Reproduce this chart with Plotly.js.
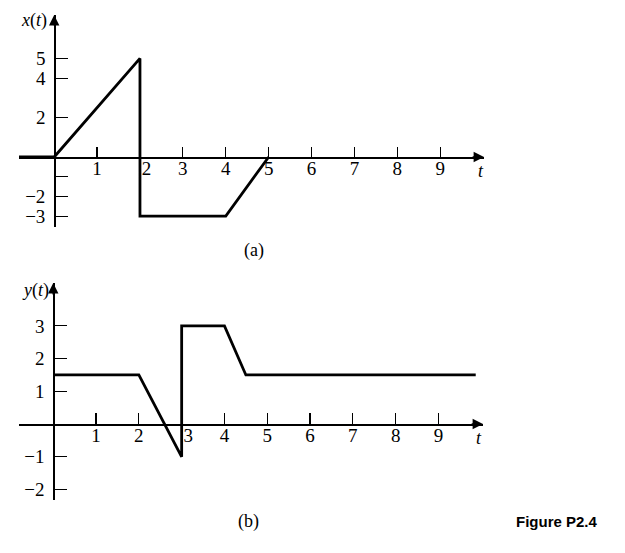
<!DOCTYPE html>
<html>
<head>
<meta charset="utf-8">
<script src="https://cdn.plot.ly/plotly-3.0.1.min.js"></script>
<style>html,body{margin:0;padding:0;background:#fff}#chart{width:625px;height:553px}</style>
</head>
<body>
<div id="chart"></div>
<script>
// ---- data ----
const tA = [-0.82, 0, 2, 2, 4, 5];
const xA = [0, 0, 5, -3, -3, 0];
const tB = [0, 2, 3, 3, 4, 4.5, 9.87];
const yB = [1.5, 1.5, -1, 3, 3, 1.5, 1.5];

const tTicks = [1, 2, 3, 4, 5, 6, 7, 8, 9];
const tTickTextA = ['1', '\u2002\u20092', '3', '4', '5', '6', '7', '8', '9'];
const tTickTextB = ['1', '2', '\u2002\u20093', '4', '5', '6', '7', '8', '9'];
const xATicks = [5, 4, 2, -1, -2, -3];
const xATickText = ['5', '4', '2', '', '\u22122', '\u22123'];
const yBTicks = [3, 2, 1, -1, -2];
const yBTickText = ['3', '2', '1', '\u22121', '\u22122'];

// ---- layout geometry ----
const W = 625, H = 553;
const px = v => v / W, py = v => 1 - v / H;
const xRangeA = [-0.82, 10.02], yRangeA = [-3.55, 7.2];
const xDomA = [px(19), px(484)], yDomA = [py(227), py(15)];
const xRangeB = [-0.8, 10.04], yRangeB = [-2.32, 4.31];
const xDomB = [px(19), px(483)], yDomB = [py(500), py(283)];
const posOf = (dom, rng) => dom[0] + (0 - rng[0]) / (rng[1] - rng[0]) * (dom[1] - dom[0]);

const serif = 'Liberation Serif, Times New Roman, serif';
const tickFont = {family: serif, size: 19, color: '#000'};
function xAxis(rng, dom, yDom, yRng, tlen, text) {
  return {range: rng, domain: dom, anchor: 'free', position: posOf(yDom, yRng),
    showline: true, linecolor: '#000', linewidth: 1.8, ticks: 'inside', ticklen: tlen, tickwidth: 1.2,
    tickcolor: '#000', tickvals: tTicks, ticktext: text, tickfont: tickFont, ticklabelstandoff: -7,
    showgrid: false, zeroline: false, fixedrange: true};
}
function yAxis(rng, dom, xDom, xRng, vals, text) {
  return {range: rng, domain: dom, anchor: 'free', position: posOf(xDom, xRng),
    showline: true, linecolor: '#000', linewidth: 1.8, ticks: 'inside', ticklen: 12, tickwidth: 1.2,
    tickcolor: '#000', tickvals: vals, ticktext: text, tickfont: tickFont, ticklabelstandoff: 5,
    showgrid: false, zeroline: false, fixedrange: true};
}

const lineStyle = {color: '#000', width: 2.8};
const traces = [
  {x: tA, y: xA, xaxis: 'x', yaxis: 'y', mode: 'lines', line: lineStyle, hoverinfo: 'skip', showlegend: false},
  {x: tB, y: yB, xaxis: 'x2', yaxis: 'y2', mode: 'lines', line: lineStyle, hoverinfo: 'skip', showlegend: false}
];

function arrow(xr, yr, x, y, ax, ay) {
  return {xref: xr, yref: yr, axref: xr, ayref: yr, x: x, y: y, ax: ax, ay: ay, text: '',
    showarrow: true, arrowhead: 2, arrowsize: 1.3, arrowwidth: 1.6, arrowcolor: '#000'};
}
function txt(x, y, text, font) {
  return {xref: 'paper', yref: 'paper', x: px(x), y: py(y), text: text, showarrow: false,
    xanchor: 'center', yanchor: 'middle', font: font};
}
const labelFont = {family: serif, size: 18, color: '#000'};

const layout = {
  width: W, height: H, margin: {l: 0, r: 0, t: 0, b: 0},
  paper_bgcolor: '#fff', plot_bgcolor: 'rgba(0,0,0,0)',
  xaxis: xAxis(xRangeA, xDomA, yDomA, yRangeA, 10, tTickTextA),
  yaxis: yAxis(yRangeA, yDomA, xDomA, xRangeA, xATicks, xATickText),
  xaxis2: xAxis(xRangeB, xDomB, yDomB, yRangeB, 11, tTickTextB),
  yaxis2: yAxis(yRangeB, yDomB, xDomB, xRangeB, yBTicks, yBTickText),
  annotations: [
    arrow('x', 'y', xRangeA[1], 0, xRangeA[1] - 0.3, 0),
    arrow('x', 'y', 0, yRangeA[1], 0, yRangeA[1] - 0.6),
    arrow('x2', 'y2', xRangeB[1], 0, xRangeB[1] - 0.3, 0),
    arrow('x2', 'y2', 0, yRangeB[1], 0, yRangeB[1] - 0.4),
    txt(34, 21, '<i>x</i>(<i>t</i>)', labelFont),
    txt(35, 290, '<i>y</i>(<i>t</i>)', labelFont),
    txt(481, 171, '<i>t</i>', labelFont),
    txt(479, 438, '<i>t</i>', labelFont),
    txt(254, 250, '(a)', labelFont),
    txt(249, 521, '(b)', labelFont),
    txt(557, 521, '<b>Figure P2.4</b>', {family: 'Liberation Sans, Arial, sans-serif', size: 15, color: '#000'})
  ]
};

Plotly.newPlot('chart', traces, layout, {displayModeBar: false, staticPlot: true});
</script>
</body>
</html>
